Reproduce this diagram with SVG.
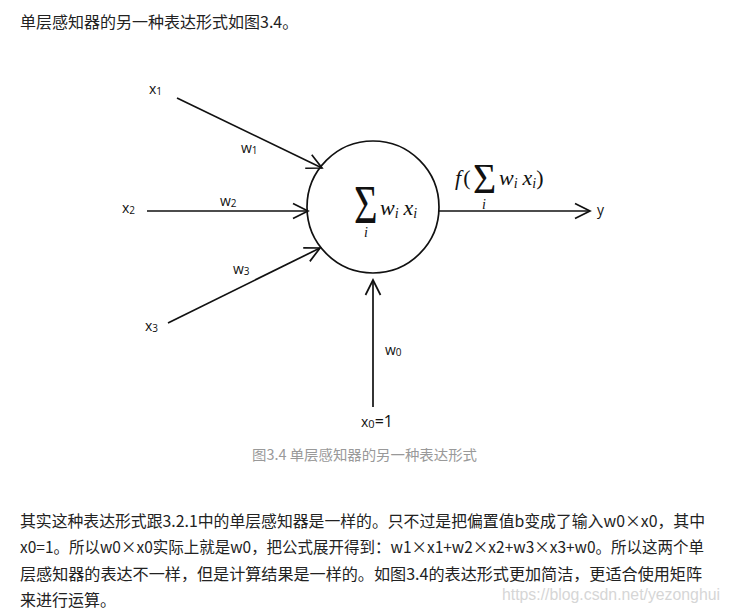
<svg xmlns="http://www.w3.org/2000/svg" width="729" height="614" viewBox="0 0 729 614">
<style>
.para{font-family:"Noto Sans CJK SC","Noto Sans",sans-serif;font-size:16px;fill:#222}
.cap{font-family:"Noto Sans CJK SC","Noto Sans",sans-serif;font-size:14px;fill:#999}
.lbl{font-family:"Open Sans","DejaVu Sans",sans-serif;font-size:14px;fill:#111}
.sub{font-size:10px}
.math{font-family:"Liberation Serif","DejaVu Serif",serif;font-style:italic;fill:#111}
.sig{font-family:"Liberation Serif","DejaVu Serif",serif;fill:#111}
.ln{stroke:#111;stroke-width:1.7;fill:none}
.wm{font-family:"Liberation Sans",sans-serif;font-size:16px;fill:#d6d6d6}
</style>
<defs>
<marker id="ah" viewBox="-17 -9 19 18" markerWidth="19" markerHeight="18" refX="0" refY="0" markerUnits="userSpaceOnUse" orient="auto">
<path d="M-15,-7.5 L0,0 L-15,7.5" stroke="#111" stroke-width="1.7" fill="none"/>
</marker>
</defs>
<rect width="729" height="614" fill="#fff"/>
<text class="para" x="20" y="28">单层感知器的另一种表达形式如图3.4。</text>

<g id="connectors">
<line class="ln" x1="177" y1="98" x2="322" y2="168" marker-end="url(#ah)"/>
<line class="ln" x1="147" y1="211" x2="308" y2="211" marker-end="url(#ah)"/>
<line class="ln" x1="168" y1="323" x2="320" y2="248" marker-end="url(#ah)"/>
<line class="ln" x1="373" y1="407" x2="373" y2="280" marker-end="url(#ah)"/>
<line class="ln" x1="439" y1="211" x2="590" y2="211" marker-end="url(#ah)"/>
</g>

<g id="neuron">
<circle class="ln" cx="373" cy="207" r="66"/>
<text class="sig" transform="translate(354,223) scale(0.75,1)" font-size="54">Σ</text>
<text class="math" x="364" y="237" font-size="14">i</text>
<text class="math" x="380" y="215" font-size="22">w<tspan font-size="14" dy="3">i</tspan><tspan dy="-3" dx="5">x</tspan><tspan font-size="14" dy="3">i</tspan></text>
</g>

<g id="output-formula">
<text class="math" x="455" y="185" font-size="22">f<tspan font-style="normal" dx="2">(</tspan></text>
<text class="sig" transform="translate(473,193) scale(0.95,1)" font-size="42">Σ</text>
<text class="math" x="482" y="209" font-size="14">i</text>
<text class="math" x="499" y="185" font-size="22">w<tspan font-size="14" dy="3">i</tspan><tspan dy="-3" dx="5">x</tspan><tspan font-size="14" dy="3">i</tspan><tspan font-style="normal" dy="-3">)</tspan></text>
</g>

<g id="x1"><text class="lbl" x="149" y="94">x<tspan class="sub" dy="1">1</tspan></text></g>
<g id="w1"><text class="lbl" x="241" y="153">w<tspan class="sub" dy="1">1</tspan></text></g>
<g id="x2"><text class="lbl" x="122" y="213">x<tspan class="sub" dy="1">2</tspan></text></g>
<g id="w2"><text class="lbl" x="220" y="206">w<tspan class="sub" dy="1">2</tspan></text></g>
<g id="w3"><text class="lbl" x="233" y="274">w<tspan class="sub" dy="1">3</tspan></text></g>
<g id="x3"><text class="lbl" x="145" y="331">x<tspan class="sub" dy="1">3</tspan></text></g>
<g id="w0"><text class="lbl" x="385" y="355">w<tspan class="sub" dy="1">0</tspan></text></g>
<g id="x0"><text class="lbl" x="361" y="427" font-size="15">x<tspan font-size="11" dy="1">0</tspan><tspan dy="-1" font-size="16">=1</tspan></text></g>
<g id="y"><text class="lbl" x="597" y="215">y</text></g>

<text class="cap" x="252" y="460" textLength="225" lengthAdjust="spacingAndGlyphs">图3.4 单层感知器的另一种表达形式</text>

<text class="para" x="20" y="527" textLength="685" lengthAdjust="spacingAndGlyphs">其实这种表达形式跟3.2.1中的单层感知器是一样的。只不过是把偏置值b变成了输入w0×x0，其中</text>
<text class="para" x="20" y="553" textLength="684" lengthAdjust="spacingAndGlyphs">x0=1。所以w0×x0实际上就是w0，把公式展开得到：w1×x1+w2×x2+w3×x3+w0。所以这两个单</text>
<text class="para" x="20" y="580" textLength="682" lengthAdjust="spacingAndGlyphs">层感知器的表达不一样，但是计算结果是一样的。如图3.4的表达形式更加简洁，更适合使用矩阵</text>
<text class="para" x="20" y="606">来进行运算。</text>
<text class="wm" x="502" y="600" textLength="218" lengthAdjust="spacingAndGlyphs">https://blog.csdn.net/yezonghui</text>
</svg>
